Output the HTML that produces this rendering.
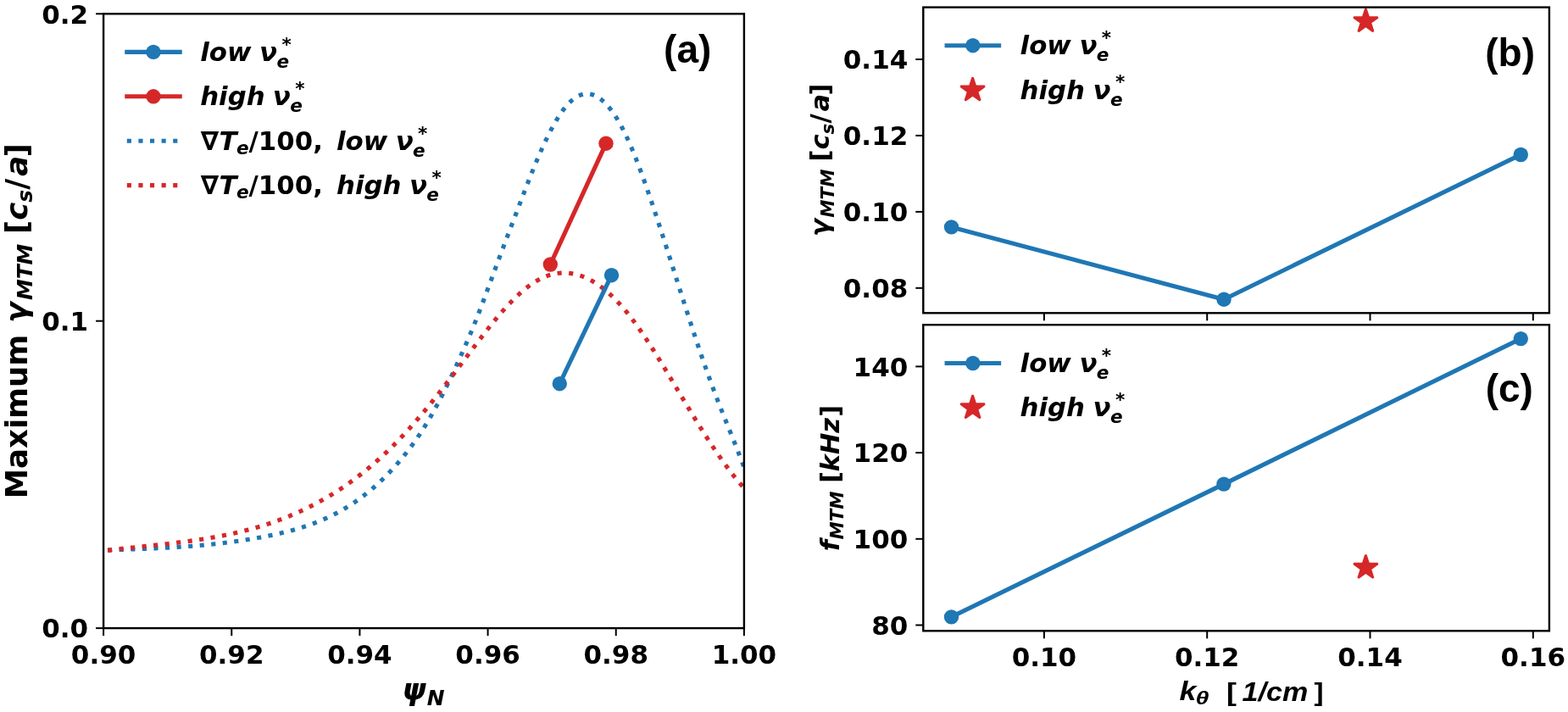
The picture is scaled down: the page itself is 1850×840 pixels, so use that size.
<!DOCTYPE html>
<html><head><meta charset="utf-8"><title>figure</title>
<style>html,body{margin:0;padding:0;background:#fff;} svg{display:block;}</style>
</head><body>
<svg width="1850" height="840" viewBox="0 0 1850 840">
<rect width="1850" height="840" fill="#fff"/>
<clipPath id="ca"><rect x="122.1" y="16.3" width="755.80" height="724.80"/></clipPath>
<g clip-path="url(#ca)">
<path d="M127.05,648.95 L128.93,648.89 L130.81,648.83 L132.70,648.77 L134.58,648.71 L136.46,648.65 L138.34,648.59 L140.22,648.53 L142.11,648.47 L143.99,648.40 L145.87,648.34 L147.75,648.28 L149.63,648.21 L151.52,648.15 L153.40,648.08 L155.28,648.02 L157.16,647.95 L159.05,647.88 L160.93,647.81 L162.81,647.74 L164.69,647.67 L166.57,647.59 L168.46,647.52 L170.34,647.44 L172.22,647.37 L174.10,647.29 L175.98,647.21 L177.87,647.12 L179.75,647.04 L181.63,646.95 L183.51,646.87 L185.39,646.78 L187.28,646.69 L189.16,646.59 L191.04,646.50 L192.92,646.40 L194.80,646.30 L196.69,646.20 L198.57,646.09 L200.45,645.99 L202.33,645.88 L204.22,645.76 L206.10,645.65 L207.98,645.53 L209.86,645.41 L211.74,645.29 L213.63,645.17 L215.51,645.04 L217.39,644.91 L219.27,644.77 L221.15,644.63 L223.04,644.49 L224.92,644.35 L226.80,644.20 L228.68,644.05 L230.56,643.90 L232.45,643.74 L234.33,643.58 L236.21,643.42 L238.09,643.25 L239.97,643.08 L241.86,642.90 L243.74,642.72 L245.62,642.54 L247.50,642.35 L249.39,642.16 L251.27,641.97 L253.15,641.77 L255.03,641.56 L256.91,641.36 L258.80,641.14 L260.68,640.93 L262.56,640.71 L264.44,640.48 L266.32,640.25 L268.21,640.02 L270.09,639.78 L271.97,639.53 L273.85,639.28 L275.73,639.03 L277.62,638.77 L279.50,638.51 L281.38,638.24 L283.26,637.96 L285.14,637.68 L287.03,637.40 L288.91,637.11 L290.79,636.81 L292.67,636.51 L294.56,636.21 L296.44,635.89 L298.32,635.58 L300.20,635.25 L302.08,634.92 L303.97,634.59 L305.85,634.25 L307.73,633.90 L309.61,633.55 L311.49,633.19 L313.38,632.82 L315.26,632.45 L317.14,632.08 L319.02,631.69 L320.90,631.30 L322.79,630.90 L324.67,630.50 L326.55,630.09 L328.43,629.67 L330.31,629.24 L332.20,628.80 L334.08,628.36 L335.96,627.90 L337.84,627.43 L339.73,626.96 L341.61,626.47 L343.49,625.97 L345.37,625.46 L347.25,624.94 L349.14,624.41 L351.02,623.86 L352.90,623.30 L354.78,622.72 L356.66,622.14 L358.55,621.53 L360.43,620.92 L362.31,620.28 L364.19,619.64 L366.07,618.97 L367.96,618.29 L369.84,617.59 L371.72,616.88 L373.60,616.15 L375.48,615.40 L377.37,614.63 L379.25,613.84 L381.13,613.04 L383.01,612.21 L384.89,611.37 L386.78,610.50 L388.66,609.61 L390.54,608.71 L392.42,607.78 L394.31,606.82 L396.19,605.85 L398.07,604.85 L399.95,603.83 L401.83,602.79 L403.72,601.72 L405.60,600.63 L407.48,599.51 L409.36,598.37 L411.24,597.21 L413.13,596.01 L415.01,594.79 L416.89,593.55 L418.77,592.27 L420.65,590.97 L422.54,589.64 L424.42,588.29 L426.30,586.90 L428.18,585.48 L430.06,584.04 L431.95,582.56 L433.83,581.06 L435.71,579.52 L437.59,577.96 L439.48,576.36 L441.36,574.73 L443.24,573.06 L445.12,571.37 L447.00,569.64 L448.89,567.88 L450.77,566.08 L452.65,564.25 L454.53,562.39 L456.41,560.49 L458.30,558.55 L460.18,556.58 L462.06,554.57 L463.94,552.52 L465.82,550.44 L467.71,548.32 L469.59,546.16 L471.47,543.97 L473.35,541.73 L475.23,539.45 L477.12,537.13 L479.00,534.77 L480.88,532.36 L482.76,529.90 L484.65,527.40 L486.53,524.84 L488.41,522.23 L490.29,519.57 L492.17,516.86 L494.06,514.09 L495.94,511.26 L497.82,508.37 L499.70,505.42 L501.58,502.42 L503.47,499.34 L505.35,496.21 L507.23,493.01 L509.11,489.74 L510.99,486.40 L512.88,483.00 L514.76,479.53 L516.64,476.00 L518.52,472.42 L520.40,468.77 L522.29,465.07 L524.17,461.32 L526.05,457.51 L527.93,453.66 L529.82,449.76 L531.70,445.82 L533.58,441.83 L535.46,437.80 L537.34,433.73 L539.23,429.63 L541.11,425.49 L542.99,421.32 L544.87,417.12 L546.75,412.89 L548.64,408.62 L550.52,404.31 L552.40,399.95 L554.28,395.54 L556.16,391.06 L558.05,386.51 L559.93,381.88 L561.81,377.16 L563.69,372.36 L565.57,367.48 L567.46,362.54 L569.34,357.54 L571.22,352.50 L573.10,347.43 L574.99,342.35 L576.87,337.25 L578.75,332.16 L580.63,327.06 L582.51,321.97 L584.40,316.88 L586.28,311.80 L588.16,306.72 L590.04,301.66 L591.92,296.62 L593.81,291.59 L595.69,286.58 L597.57,281.60 L599.45,276.64 L601.33,271.70 L603.22,266.78 L605.10,261.87 L606.98,256.96 L608.86,252.04 L610.74,247.11 L612.63,242.15 L614.51,237.20 L616.39,232.24 L618.27,227.31 L620.16,222.41 L622.04,217.54 L623.92,212.72 L625.80,207.95 L627.68,203.23 L629.57,198.58 L631.45,193.99 L633.33,189.48 L635.21,185.04 L637.09,180.70 L638.98,176.44 L640.86,172.27 L642.74,168.21 L644.62,164.24 L646.50,160.39 L648.39,156.64 L650.27,153.01 L652.15,149.50 L654.03,146.12 L655.91,142.86 L657.80,139.74 L659.68,136.76 L661.56,133.91 L663.44,131.22 L665.32,128.67 L667.21,126.28 L669.09,124.05 L670.97,121.98 L672.85,120.08 L674.74,118.35 L676.62,116.80 L678.50,115.43 L680.38,114.23 L682.26,113.21 L684.15,112.36 L686.03,111.69 L687.91,111.19 L689.79,110.86 L691.67,110.70 L693.56,110.71 L695.44,110.90 L697.32,111.25 L699.20,111.77 L701.08,112.46 L702.97,113.31 L704.85,114.33 L706.73,115.51 L708.61,116.86 L710.49,118.37 L712.38,120.05 L714.26,121.89 L716.14,123.88 L718.02,126.04 L719.91,128.36 L721.79,130.84 L723.67,133.47 L725.55,136.26 L727.43,139.21 L729.32,142.31 L731.20,145.57 L733.08,148.98 L734.96,152.55 L736.84,156.26 L738.73,160.13 L740.61,164.15 L742.49,168.32 L744.37,172.63 L746.25,177.07 L748.14,181.64 L750.02,186.34 L751.90,191.15 L753.78,196.06 L755.66,201.08 L757.55,206.20 L759.43,211.40 L761.31,216.68 L763.19,222.04 L765.08,227.47 L766.96,232.96 L768.84,238.51 L770.72,244.10 L772.60,249.74 L774.49,255.42 L776.37,261.14 L778.25,266.89 L780.13,272.68 L782.01,278.49 L783.90,284.33 L785.78,290.19 L787.66,296.07 L789.54,301.97 L791.42,307.87 L793.31,313.79 L795.19,319.72 L797.07,325.64 L798.95,331.57 L800.83,337.50 L802.72,343.41 L804.60,349.32 L806.48,355.22 L808.36,361.10 L810.25,366.96 L812.13,372.80 L814.01,378.61 L815.89,384.39 L817.77,390.15 L819.66,395.86 L821.54,401.54 L823.42,407.18 L825.30,412.78 L827.18,418.32 L829.07,423.82 L830.95,429.26 L832.83,434.64 L834.71,439.96 L836.59,445.22 L838.48,450.41 L840.36,455.53 L842.24,460.57 L844.12,465.54 L846.00,470.45 L847.89,475.30 L849.77,480.09 L851.65,484.85 L853.53,489.57 L855.42,494.26 L857.30,498.94 L859.18,503.62 L861.06,508.29 L862.94,512.97 L864.83,517.66 L866.71,522.38 L868.59,527.14 L870.47,531.93 L872.35,536.78 L874.24,541.68 L876.12,546.65 L878.00,551.70" fill="none" stroke="#1f77b4" stroke-width="5.132" stroke-dasharray="5.132 8.468" stroke-linecap="butt"/>
<path d="M127.05,649.33 L128.93,649.10 L130.81,648.87 L132.70,648.65 L134.58,648.43 L136.46,648.21 L138.34,647.99 L140.22,647.78 L142.11,647.57 L143.99,647.36 L145.87,647.15 L147.75,646.94 L149.63,646.74 L151.52,646.53 L153.40,646.33 L155.28,646.13 L157.16,645.93 L159.05,645.73 L160.93,645.53 L162.81,645.33 L164.69,645.13 L166.57,644.93 L168.46,644.73 L170.34,644.54 L172.22,644.34 L174.10,644.14 L175.98,643.94 L177.87,643.74 L179.75,643.54 L181.63,643.34 L183.51,643.13 L185.39,642.93 L187.28,642.73 L189.16,642.52 L191.04,642.31 L192.92,642.10 L194.80,641.89 L196.69,641.68 L198.57,641.46 L200.45,641.25 L202.33,641.03 L204.22,640.81 L206.10,640.58 L207.98,640.35 L209.86,640.12 L211.74,639.89 L213.63,639.65 L215.51,639.41 L217.39,639.17 L219.27,638.92 L221.15,638.67 L223.04,638.42 L224.92,638.16 L226.80,637.90 L228.68,637.63 L230.56,637.36 L232.45,637.09 L234.33,636.81 L236.21,636.52 L238.09,636.23 L239.97,635.94 L241.86,635.64 L243.74,635.33 L245.62,635.02 L247.50,634.71 L249.39,634.38 L251.27,634.06 L253.15,633.72 L255.03,633.38 L256.91,633.03 L258.80,632.68 L260.68,632.32 L262.56,631.96 L264.44,631.58 L266.32,631.20 L268.21,630.82 L270.09,630.42 L271.97,630.02 L273.85,629.61 L275.73,629.20 L277.62,628.77 L279.50,628.34 L281.38,627.90 L283.26,627.45 L285.14,627.00 L287.03,626.53 L288.91,626.06 L290.79,625.57 L292.67,625.08 L294.56,624.58 L296.44,624.07 L298.32,623.55 L300.20,623.03 L302.08,622.49 L303.97,621.94 L305.85,621.38 L307.73,620.82 L309.61,620.24 L311.49,619.65 L313.38,619.06 L315.26,618.45 L317.14,617.83 L319.02,617.20 L320.90,616.56 L322.79,615.91 L324.67,615.25 L326.55,614.57 L328.43,613.89 L330.31,613.19 L332.20,612.48 L334.08,611.76 L335.96,611.03 L337.84,610.29 L339.73,609.53 L341.61,608.76 L343.49,607.98 L345.37,607.18 L347.25,606.38 L349.14,605.56 L351.02,604.72 L352.90,603.88 L354.78,603.02 L356.66,602.15 L358.55,601.26 L360.43,600.36 L362.31,599.45 L364.19,598.52 L366.07,597.57 L367.96,596.62 L369.84,595.65 L371.72,594.66 L373.60,593.66 L375.48,592.65 L377.37,591.62 L379.25,590.57 L381.13,589.51 L383.01,588.44 L384.89,587.35 L386.78,586.24 L388.66,585.12 L390.54,583.98 L392.42,582.82 L394.31,581.65 L396.19,580.47 L398.07,579.26 L399.95,578.04 L401.83,576.81 L403.72,575.55 L405.60,574.28 L407.48,572.99 L409.36,571.69 L411.24,570.37 L413.13,569.03 L415.01,567.67 L416.89,566.29 L418.77,564.90 L420.65,563.49 L422.54,562.06 L424.42,560.61 L426.30,559.14 L428.18,557.66 L430.06,556.15 L431.95,554.63 L433.83,553.09 L435.71,551.53 L437.59,549.94 L439.48,548.34 L441.36,546.72 L443.24,545.09 L445.12,543.43 L447.00,541.75 L448.89,540.05 L450.77,538.33 L452.65,536.59 L454.53,534.83 L456.41,533.04 L458.30,531.24 L460.18,529.42 L462.06,527.57 L463.94,525.71 L465.82,523.82 L467.71,521.91 L469.59,519.98 L471.47,518.03 L473.35,516.05 L475.23,514.06 L477.12,512.04 L479.00,510.00 L480.88,507.94 L482.76,505.86 L484.65,503.76 L486.53,501.63 L488.41,499.49 L490.29,497.33 L492.17,495.15 L494.06,492.96 L495.94,490.74 L497.82,488.51 L499.70,486.27 L501.58,484.00 L503.47,481.72 L505.35,479.43 L507.23,477.12 L509.11,474.80 L510.99,472.46 L512.88,470.11 L514.76,467.75 L516.64,465.37 L518.52,462.98 L520.40,460.59 L522.29,458.18 L524.17,455.75 L526.05,453.32 L527.93,450.88 L529.82,448.43 L531.70,445.98 L533.58,443.51 L535.46,441.03 L537.34,438.55 L539.23,436.06 L541.11,433.57 L542.99,431.07 L544.87,428.56 L546.75,426.05 L548.64,423.54 L550.52,421.02 L552.40,418.51 L554.28,415.99 L556.16,413.48 L558.05,410.98 L559.93,408.48 L561.81,405.99 L563.69,403.50 L565.57,401.03 L567.46,398.57 L569.34,396.12 L571.22,393.69 L573.10,391.27 L574.99,388.87 L576.87,386.49 L578.75,384.13 L580.63,381.79 L582.51,379.48 L584.40,377.19 L586.28,374.92 L588.16,372.69 L590.04,370.48 L591.92,368.31 L593.81,366.17 L595.69,364.06 L597.57,361.98 L599.45,359.95 L601.33,357.95 L603.22,355.99 L605.10,354.07 L606.98,352.19 L608.86,350.36 L610.74,348.58 L612.63,346.84 L614.51,345.14 L616.39,343.50 L618.27,341.91 L620.16,340.37 L622.04,338.89 L623.92,337.46 L625.80,336.09 L627.68,334.78 L629.57,333.53 L631.45,332.34 L633.33,331.21 L635.21,330.15 L637.09,329.15 L638.98,328.22 L640.86,327.35 L642.74,326.55 L644.62,325.81 L646.50,325.14 L648.39,324.53 L650.27,323.99 L652.15,323.51 L654.03,323.10 L655.91,322.75 L657.80,322.46 L659.68,322.24 L661.56,322.07 L663.44,321.98 L665.32,321.94 L667.21,321.97 L669.09,322.06 L670.97,322.21 L672.85,322.42 L674.74,322.70 L676.62,323.04 L678.50,323.44 L680.38,323.90 L682.26,324.42 L684.15,325.00 L686.03,325.64 L687.91,326.34 L689.79,327.11 L691.67,327.93 L693.56,328.81 L695.44,329.75 L697.32,330.76 L699.20,331.82 L701.08,332.94 L702.97,334.11 L704.85,335.35 L706.73,336.65 L708.61,338.00 L710.49,339.41 L712.38,340.88 L714.26,342.41 L716.14,343.99 L718.02,345.63 L719.91,347.33 L721.79,349.09 L723.67,350.90 L725.55,352.77 L727.43,354.69 L729.32,356.67 L731.20,358.71 L733.08,360.80 L734.96,362.95 L736.84,365.15 L738.73,367.41 L740.61,369.72 L742.49,372.08 L744.37,374.50 L746.25,376.97 L748.14,379.48 L750.02,382.04 L751.90,384.64 L753.78,387.29 L755.66,389.98 L757.55,392.70 L759.43,395.47 L761.31,398.27 L763.19,401.10 L765.08,403.97 L766.96,406.87 L768.84,409.79 L770.72,412.75 L772.60,415.72 L774.49,418.73 L776.37,421.75 L778.25,424.80 L780.13,427.86 L782.01,430.94 L783.90,434.03 L785.78,437.14 L787.66,440.26 L789.54,443.39 L791.42,446.53 L793.31,449.67 L795.19,452.82 L797.07,455.97 L798.95,459.13 L800.83,462.28 L802.72,465.43 L804.60,468.57 L806.48,471.72 L808.36,474.85 L810.25,477.97 L812.13,481.09 L814.01,484.20 L815.89,487.29 L817.77,490.37 L819.66,493.44 L821.54,496.50 L823.42,499.54 L825.30,502.56 L827.18,505.56 L829.07,508.55 L830.95,511.51 L832.83,514.45 L834.71,517.38 L836.59,520.27 L838.48,523.15 L840.36,526.00 L842.24,528.82 L844.12,531.61 L846.00,534.38 L847.89,537.11 L849.77,539.82 L851.65,542.49 L853.53,545.13 L855.42,547.74 L857.30,550.31 L859.18,552.84 L861.06,555.34 L862.94,557.80 L864.83,560.22 L866.71,562.60 L868.59,564.94 L870.47,567.23 L872.35,569.48 L874.24,571.69 L876.12,573.85 L878.00,575.96" fill="none" stroke="#d62728" stroke-width="5.132" stroke-dasharray="5.132 8.468" stroke-linecap="butt"/>
</g>
<path d="M660.30,452.70 L721.50,324.70" fill="none" stroke="#1f77b4" stroke-width="5.132" stroke-linecap="square" stroke-linejoin="round"/>
<circle cx="660.30" cy="452.70" r="8.7" fill="#1f77b4"/>
<circle cx="721.50" cy="324.70" r="8.7" fill="#1f77b4"/>
<path d="M649.30,312.00 L715.00,169.20" fill="none" stroke="#d62728" stroke-width="5.132" stroke-linecap="square" stroke-linejoin="round"/>
<circle cx="649.30" cy="312.00" r="8.7" fill="#d62728"/>
<circle cx="715.00" cy="169.20" r="8.7" fill="#d62728"/>
<path d="M1122.50,267.90 L1444.00,353.20 L1794.30,182.50" fill="none" stroke="#1f77b4" stroke-width="5.132" stroke-linecap="square" stroke-linejoin="round"/>
<circle cx="1122.50" cy="267.90" r="8.7" fill="#1f77b4"/>
<circle cx="1444.00" cy="353.20" r="8.7" fill="#1f77b4"/>
<circle cx="1794.30" cy="182.50" r="8.7" fill="#1f77b4"/>
<path d="M1611.40,10.05 L1614.77,20.41 L1625.67,20.41 L1616.85,26.82 L1620.22,37.19 L1611.40,30.78 L1602.58,37.19 L1605.95,26.82 L1597.13,20.41 L1608.03,20.41Z" fill="#d62728" stroke="#d62728" stroke-width="2.5" stroke-linejoin="bevel"/>
<path d="M1122.50,727.90 L1443.90,571.10 L1794.30,399.60" fill="none" stroke="#1f77b4" stroke-width="5.132" stroke-linecap="square" stroke-linejoin="round"/>
<circle cx="1122.50" cy="727.90" r="8.7" fill="#1f77b4"/>
<circle cx="1443.90" cy="571.10" r="8.7" fill="#1f77b4"/>
<circle cx="1794.30" cy="399.60" r="8.7" fill="#1f77b4"/>
<path d="M1611.40,654.65 L1614.77,665.01 L1625.67,665.01 L1616.85,671.42 L1620.22,681.79 L1611.40,675.38 L1602.58,681.79 L1605.95,671.42 L1597.13,665.01 L1608.03,665.01Z" fill="#d62728" stroke="#d62728" stroke-width="2.5" stroke-linejoin="bevel"/>
<rect x="122.1" y="16.3" width="755.80" height="724.80" fill="none" stroke="#000" stroke-width="2.4" stroke-linejoin="miter"/>
<rect x="1089.3" y="8.6" width="738.60" height="360.70" fill="none" stroke="#000" stroke-width="2.4" stroke-linejoin="miter"/>
<rect x="1089.3" y="383.2" width="738.60" height="361.10" fill="none" stroke="#000" stroke-width="2.4" stroke-linejoin="miter"/>
<line x1="113.10" y1="741.10" x2="122.10" y2="741.10" stroke="#000" stroke-width="2.0"/>
<text x="104.10" y="752.30" font-family='"DejaVu Sans", sans-serif' font-size="31.00" font-weight="bold" text-anchor="end">0.0</text>
<line x1="113.10" y1="378.70" x2="122.10" y2="378.70" stroke="#000" stroke-width="2.0"/>
<text x="104.10" y="389.90" font-family='"DejaVu Sans", sans-serif' font-size="31.00" font-weight="bold" text-anchor="end">0.1</text>
<line x1="113.10" y1="16.30" x2="122.10" y2="16.30" stroke="#000" stroke-width="2.0"/>
<text x="104.10" y="27.50" font-family='"DejaVu Sans", sans-serif' font-size="31.00" font-weight="bold" text-anchor="end">0.2</text>
<line x1="122.10" y1="741.10" x2="122.10" y2="750.10" stroke="#000" stroke-width="2.0"/>
<text x="122.10" y="782.60" font-family='"DejaVu Sans", sans-serif' font-size="31.00" font-weight="bold" text-anchor="middle">0.90</text>
<line x1="273.26" y1="741.10" x2="273.26" y2="750.10" stroke="#000" stroke-width="2.0"/>
<text x="273.26" y="782.60" font-family='"DejaVu Sans", sans-serif' font-size="31.00" font-weight="bold" text-anchor="middle">0.92</text>
<line x1="424.42" y1="741.10" x2="424.42" y2="750.10" stroke="#000" stroke-width="2.0"/>
<text x="424.42" y="782.60" font-family='"DejaVu Sans", sans-serif' font-size="31.00" font-weight="bold" text-anchor="middle">0.94</text>
<line x1="575.58" y1="741.10" x2="575.58" y2="750.10" stroke="#000" stroke-width="2.0"/>
<text x="575.58" y="782.60" font-family='"DejaVu Sans", sans-serif' font-size="31.00" font-weight="bold" text-anchor="middle">0.96</text>
<line x1="726.74" y1="741.10" x2="726.74" y2="750.10" stroke="#000" stroke-width="2.0"/>
<text x="726.74" y="782.60" font-family='"DejaVu Sans", sans-serif' font-size="31.00" font-weight="bold" text-anchor="middle">0.98</text>
<line x1="877.90" y1="741.10" x2="877.90" y2="750.10" stroke="#000" stroke-width="2.0"/>
<text x="877.90" y="782.60" font-family='"DejaVu Sans", sans-serif' font-size="31.00" font-weight="bold" text-anchor="middle">1.00</text>
<line x1="1080.30" y1="339.80" x2="1089.30" y2="339.80" stroke="#000" stroke-width="2.0"/>
<text x="1071.30" y="351.00" font-family='"DejaVu Sans", sans-serif' font-size="31.00" font-weight="bold" text-anchor="end">0.08</text>
<line x1="1080.30" y1="249.87" x2="1089.30" y2="249.87" stroke="#000" stroke-width="2.0"/>
<text x="1071.30" y="261.07" font-family='"DejaVu Sans", sans-serif' font-size="31.00" font-weight="bold" text-anchor="end">0.10</text>
<line x1="1080.30" y1="159.94" x2="1089.30" y2="159.94" stroke="#000" stroke-width="2.0"/>
<text x="1071.30" y="171.14" font-family='"DejaVu Sans", sans-serif' font-size="31.00" font-weight="bold" text-anchor="end">0.12</text>
<line x1="1080.30" y1="70.01" x2="1089.30" y2="70.01" stroke="#000" stroke-width="2.0"/>
<text x="1071.30" y="81.21" font-family='"DejaVu Sans", sans-serif' font-size="31.00" font-weight="bold" text-anchor="end">0.14</text>
<line x1="1080.30" y1="737.50" x2="1089.30" y2="737.50" stroke="#000" stroke-width="2.0"/>
<text x="1071.30" y="748.70" font-family='"DejaVu Sans", sans-serif' font-size="31.00" font-weight="bold" text-anchor="end">80</text>
<line x1="1080.30" y1="635.80" x2="1089.30" y2="635.80" stroke="#000" stroke-width="2.0"/>
<text x="1071.30" y="647.00" font-family='"DejaVu Sans", sans-serif' font-size="31.00" font-weight="bold" text-anchor="end">100</text>
<line x1="1080.30" y1="534.10" x2="1089.30" y2="534.10" stroke="#000" stroke-width="2.0"/>
<text x="1071.30" y="545.30" font-family='"DejaVu Sans", sans-serif' font-size="31.00" font-weight="bold" text-anchor="end">120</text>
<line x1="1080.30" y1="432.40" x2="1089.30" y2="432.40" stroke="#000" stroke-width="2.0"/>
<text x="1071.30" y="443.60" font-family='"DejaVu Sans", sans-serif' font-size="31.00" font-weight="bold" text-anchor="end">140</text>
<line x1="1231.90" y1="369.30" x2="1231.90" y2="378.30" stroke="#000" stroke-width="2.0"/>
<line x1="1424.20" y1="369.30" x2="1424.20" y2="378.30" stroke="#000" stroke-width="2.0"/>
<line x1="1616.50" y1="369.30" x2="1616.50" y2="378.30" stroke="#000" stroke-width="2.0"/>
<line x1="1808.80" y1="369.30" x2="1808.80" y2="378.30" stroke="#000" stroke-width="2.0"/>
<line x1="1231.90" y1="744.30" x2="1231.90" y2="753.30" stroke="#000" stroke-width="2.0"/>
<text x="1231.90" y="785.80" font-family='"DejaVu Sans", sans-serif' font-size="31.00" font-weight="bold" text-anchor="middle">0.10</text>
<line x1="1424.20" y1="744.30" x2="1424.20" y2="753.30" stroke="#000" stroke-width="2.0"/>
<text x="1424.20" y="785.80" font-family='"DejaVu Sans", sans-serif' font-size="31.00" font-weight="bold" text-anchor="middle">0.12</text>
<line x1="1616.50" y1="744.30" x2="1616.50" y2="753.30" stroke="#000" stroke-width="2.0"/>
<text x="1616.50" y="785.80" font-family='"DejaVu Sans", sans-serif' font-size="31.00" font-weight="bold" text-anchor="middle">0.14</text>
<line x1="1808.80" y1="744.30" x2="1808.80" y2="753.30" stroke="#000" stroke-width="2.0"/>
<text x="1808.80" y="785.80" font-family='"DejaVu Sans", sans-serif' font-size="31.00" font-weight="bold" text-anchor="middle">0.16</text>
<text x="783.10" y="73.60" font-family='"Liberation Sans", Arial, sans-serif' font-size="46.00" font-weight="bold">(a)</text>
<text x="1752.30" y="77.90" font-family='"Liberation Sans", Arial, sans-serif' font-size="46.00" font-weight="bold">(b)</text>
<text x="1752.70" y="473.70" font-family='"Liberation Sans", Arial, sans-serif' font-size="46.00" font-weight="bold">(c)</text>
<line x1="149.80" y1="61.40" x2="212.20" y2="61.40" stroke="#1f77b4" stroke-width="5.132" stroke-linecap="square"/>
<circle cx="181.00" cy="61.40" r="8.7" fill="#1f77b4"/>
<line x1="149.80" y1="113.80" x2="212.20" y2="113.80" stroke="#d62728" stroke-width="5.132" stroke-linecap="square"/>
<circle cx="181.00" cy="113.80" r="8.7" fill="#d62728"/>
<line x1="149.80" y1="166.20" x2="212.20" y2="166.20" stroke="#1f77b4" stroke-width="5.132" stroke-dasharray="5.132 8.468"/>
<line x1="149.80" y1="218.60" x2="212.20" y2="218.60" stroke="#d62728" stroke-width="5.132" stroke-dasharray="5.132 8.468"/>
<text x="236.20" y="72.10" font-family='"DejaVu Sans", sans-serif' font-size="30.80" font-weight="bold" font-style="italic">low</text>
<text x="306.00" y="72.10" font-family='"DejaVu Sans", sans-serif' font-size="30.80" font-weight="bold" font-style="italic">ν</text>
<text x="326.40" y="80.10" font-family='"DejaVu Sans", sans-serif' font-size="21.56" font-weight="bold" font-style="italic">e</text>
<text x="332.45" y="60.00" font-family='"DejaVu Sans", sans-serif' font-size="21.56" font-weight="bold">*</text>
<text x="236.20" y="124.40" font-family='"DejaVu Sans", sans-serif' font-size="30.80" font-weight="bold" font-style="italic">high</text>
<text x="321.80" y="124.40" font-family='"DejaVu Sans", sans-serif' font-size="30.80" font-weight="bold" font-style="italic">ν</text>
<text x="342.20" y="132.40" font-family='"DejaVu Sans", sans-serif' font-size="21.56" font-weight="bold" font-style="italic">e</text>
<text x="348.25" y="112.30" font-family='"DejaVu Sans", sans-serif' font-size="21.56" font-weight="bold">*</text>
<text x="236.80" y="176.70" font-family='"DejaVu Sans", sans-serif' font-size="30.80" font-weight="bold">∇</text>
<text x="258.40" y="176.70" font-family='"DejaVu Sans", sans-serif' font-size="30.80" font-weight="bold" font-style="italic">T</text>
<text x="278.90" y="181.70" font-family='"DejaVu Sans", sans-serif' font-size="21.56" font-weight="bold" font-style="italic">e</text>
<text x="293.60" y="176.70" font-family='"DejaVu Sans", sans-serif' font-size="30.80" font-weight="bold">/100,</text>
<text x="397.00" y="176.70" font-family='"DejaVu Sans", sans-serif' font-size="30.80" font-weight="bold" font-style="italic">low</text>
<text x="466.67" y="176.70" font-family='"DejaVu Sans", sans-serif' font-size="30.80" font-weight="bold" font-style="italic">ν</text>
<text x="487.07" y="184.70" font-family='"DejaVu Sans", sans-serif' font-size="21.56" font-weight="bold" font-style="italic">e</text>
<text x="493.12" y="164.60" font-family='"DejaVu Sans", sans-serif' font-size="21.56" font-weight="bold">*</text>
<text x="236.80" y="229.00" font-family='"DejaVu Sans", sans-serif' font-size="30.80" font-weight="bold">∇</text>
<text x="258.40" y="229.00" font-family='"DejaVu Sans", sans-serif' font-size="30.80" font-weight="bold" font-style="italic">T</text>
<text x="278.90" y="234.00" font-family='"DejaVu Sans", sans-serif' font-size="21.56" font-weight="bold" font-style="italic">e</text>
<text x="293.60" y="229.00" font-family='"DejaVu Sans", sans-serif' font-size="30.80" font-weight="bold">/100,</text>
<text x="397.00" y="229.00" font-family='"DejaVu Sans", sans-serif' font-size="30.80" font-weight="bold" font-style="italic">high</text>
<text x="482.96" y="229.00" font-family='"DejaVu Sans", sans-serif' font-size="30.80" font-weight="bold" font-style="italic">ν</text>
<text x="503.36" y="237.00" font-family='"DejaVu Sans", sans-serif' font-size="21.56" font-weight="bold" font-style="italic">e</text>
<text x="509.41" y="216.90" font-family='"DejaVu Sans", sans-serif' font-size="21.56" font-weight="bold">*</text>
<line x1="1117.10" y1="53.70" x2="1178.60" y2="53.70" stroke="#1f77b4" stroke-width="5.132" stroke-linecap="square"/>
<circle cx="1147.85" cy="53.70" r="8.7" fill="#1f77b4"/>
<path d="M1147.60,91.40 L1150.97,101.76 L1161.87,101.76 L1153.05,108.17 L1156.42,118.54 L1147.60,112.13 L1138.78,118.54 L1142.15,108.17 L1133.33,101.76 L1144.23,101.76Z" fill="#d62728" stroke="#d62728" stroke-width="2.5" stroke-linejoin="bevel"/>
<text x="1203.60" y="63.80" font-family='"DejaVu Sans", sans-serif' font-size="30.80" font-weight="bold" font-style="italic">low</text>
<text x="1273.40" y="63.80" font-family='"DejaVu Sans", sans-serif' font-size="30.80" font-weight="bold" font-style="italic">ν</text>
<text x="1293.80" y="71.80" font-family='"DejaVu Sans", sans-serif' font-size="21.56" font-weight="bold" font-style="italic">e</text>
<text x="1299.85" y="51.70" font-family='"DejaVu Sans", sans-serif' font-size="21.56" font-weight="bold">*</text>
<text x="1203.60" y="116.50" font-family='"DejaVu Sans", sans-serif' font-size="30.80" font-weight="bold" font-style="italic">high</text>
<text x="1289.60" y="116.50" font-family='"DejaVu Sans", sans-serif' font-size="30.80" font-weight="bold" font-style="italic">ν</text>
<text x="1310.00" y="124.50" font-family='"DejaVu Sans", sans-serif' font-size="21.56" font-weight="bold" font-style="italic">e</text>
<text x="1316.05" y="104.40" font-family='"DejaVu Sans", sans-serif' font-size="21.56" font-weight="bold">*</text>
<line x1="1117.10" y1="428.50" x2="1178.60" y2="428.50" stroke="#1f77b4" stroke-width="5.132" stroke-linecap="square"/>
<circle cx="1147.85" cy="428.50" r="8.7" fill="#1f77b4"/>
<path d="M1147.60,466.20 L1150.97,476.56 L1161.87,476.56 L1153.05,482.97 L1156.42,493.34 L1147.60,486.93 L1138.78,493.34 L1142.15,482.97 L1133.33,476.56 L1144.23,476.56Z" fill="#d62728" stroke="#d62728" stroke-width="2.5" stroke-linejoin="bevel"/>
<text x="1203.60" y="438.60" font-family='"DejaVu Sans", sans-serif' font-size="30.80" font-weight="bold" font-style="italic">low</text>
<text x="1273.40" y="438.60" font-family='"DejaVu Sans", sans-serif' font-size="30.80" font-weight="bold" font-style="italic">ν</text>
<text x="1293.80" y="446.60" font-family='"DejaVu Sans", sans-serif' font-size="21.56" font-weight="bold" font-style="italic">e</text>
<text x="1299.85" y="426.50" font-family='"DejaVu Sans", sans-serif' font-size="21.56" font-weight="bold">*</text>
<text x="1203.60" y="491.30" font-family='"DejaVu Sans", sans-serif' font-size="30.80" font-weight="bold" font-style="italic">high</text>
<text x="1289.60" y="491.30" font-family='"DejaVu Sans", sans-serif' font-size="30.80" font-weight="bold" font-style="italic">ν</text>
<text x="1310.00" y="499.30" font-family='"DejaVu Sans", sans-serif' font-size="21.56" font-weight="bold" font-style="italic">e</text>
<text x="1316.05" y="479.20" font-family='"DejaVu Sans", sans-serif' font-size="21.56" font-weight="bold">*</text>
<text x="474.50" y="826.30" font-family='"DejaVu Sans", sans-serif' font-size="35.50" font-weight="bold" font-style="italic">ψ</text>
<text x="503.80" y="832.00" font-family='"DejaVu Sans", sans-serif' font-size="24.85" font-weight="bold" font-style="italic">N</text>
<g transform="translate(31.65,0) rotate(-90)">
<text x="-588.30" y="0.00" font-family='"DejaVu Sans", sans-serif' font-size="35.50" font-weight="bold">Maximum</text>
<text x="-380.70" y="0.00" font-family='"DejaVu Sans", sans-serif' font-size="35.50" font-weight="bold" font-style="italic">γ</text>
<text x="-354.10" y="6.25" font-family='"DejaVu Sans", sans-serif' font-size="24.85" font-weight="bold" font-style="italic">MTM</text>
<text x="-276.00" y="0.00" font-family='"DejaVu Sans", sans-serif' font-size="35.50" font-weight="bold">[</text>
<text x="-259.78" y="0.00" font-family='"DejaVu Sans", sans-serif' font-size="35.50" font-weight="bold" font-style="italic">c</text>
<text x="-238.83" y="6.25" font-family='"DejaVu Sans", sans-serif' font-size="24.85" font-weight="bold" font-style="italic">s</text>
<text x="-223.81" y="0.00" font-family='"DejaVu Sans", sans-serif' font-size="35.50" font-weight="bold">/</text>
<text x="-207.66" y="0.00" font-family='"DejaVu Sans", sans-serif' font-size="35.50" font-weight="bold" font-style="italic">a</text>
<text x="-185.62" y="0.00" font-family='"DejaVu Sans", sans-serif' font-size="35.50" font-weight="bold">]</text>
</g>
<g transform="translate(978.00,0) rotate(-90)">
<text x="-278.90" y="0.00" font-family='"DejaVu Sans", sans-serif' font-size="30.60" font-weight="bold" font-style="italic">γ</text>
<text x="-256.70" y="5.75" font-family='"DejaVu Sans", sans-serif' font-size="21.42" font-weight="bold" font-style="italic">MTM</text>
<text x="-190.50" y="0.00" font-family='"DejaVu Sans", sans-serif' font-size="30.60" font-weight="bold">[</text>
<text x="-176.52" y="0.00" font-family='"DejaVu Sans", sans-serif' font-size="30.60" font-weight="bold" font-style="italic">c</text>
<text x="-158.46" y="5.75" font-family='"DejaVu Sans", sans-serif' font-size="21.42" font-weight="bold" font-style="italic">s</text>
<text x="-145.52" y="0.00" font-family='"DejaVu Sans", sans-serif' font-size="30.60" font-weight="bold">/</text>
<text x="-131.59" y="0.00" font-family='"DejaVu Sans", sans-serif' font-size="30.60" font-weight="bold" font-style="italic">a</text>
<text x="-112.59" y="0.00" font-family='"DejaVu Sans", sans-serif' font-size="30.60" font-weight="bold">]</text>
</g>
<g transform="translate(990.20,0) rotate(-90)">
<text x="-650.20" y="0.00" font-family='"DejaVu Sans", sans-serif' font-size="30.50" font-weight="bold" font-style="italic">f</text>
<text x="-636.60" y="4.70" font-family='"DejaVu Sans", sans-serif' font-size="21.35" font-weight="bold" font-style="italic">MTM</text>
<text x="-569.70" y="0.00" font-family='"DejaVu Sans", sans-serif' font-size="30.50" font-weight="bold">[</text>
<text x="-556.50" y="0.00" font-family='"DejaVu Sans", sans-serif' font-size="30.50" font-weight="bold" font-style="italic">kHz</text>
<text x="-491.70" y="0.00" font-family='"DejaVu Sans", sans-serif' font-size="30.50" font-weight="bold">]</text>
</g>
<text transform="translate(1391.40,826.00) scale(1.120,1)" font-family='"Liberation Sans", Arial, sans-serif' font-size="32.00" font-weight="bold" font-style="italic">k</text>
<text transform="translate(1410.50,831.00) scale(1.300,1)" font-family='"Liberation Sans", Arial, sans-serif' font-size="22.00" font-weight="bold" font-style="italic">θ</text>
<text transform="translate(1447.10,826.50) scale(1.220,1)" font-family='"Liberation Sans", Arial, sans-serif' font-size="29.40" font-weight="bold">[</text>
<text transform="translate(1465.50,827.00) scale(1.090,1)" font-family='"Liberation Sans", Arial, sans-serif' font-size="31.30" font-weight="bold" font-style="italic">1/cm</text>
<text transform="translate(1550.60,826.50) scale(1.130,1)" font-family='"Liberation Sans", Arial, sans-serif' font-size="29.40" font-weight="bold">]</text>
</svg>
</body></html>
